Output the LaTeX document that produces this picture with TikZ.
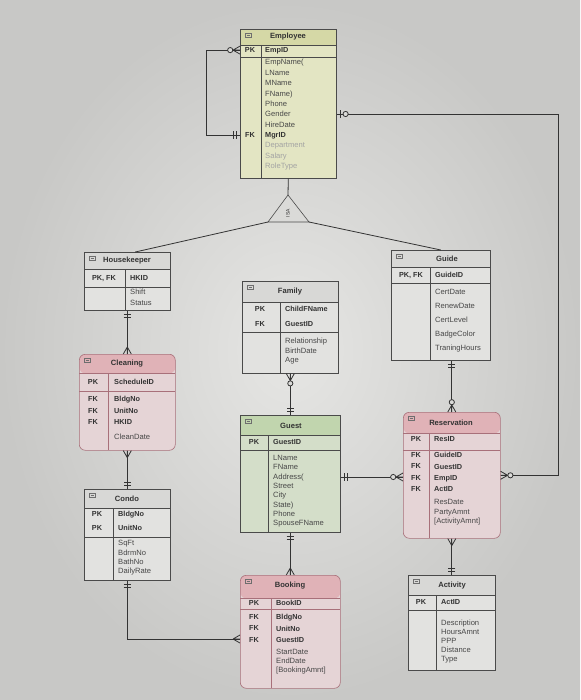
\documentclass[tikz,border=0pt]{standalone}
\usepackage{fontspec}
\setmainfont{Liberation Sans}
\begin{document}
\begin{tikzpicture}[x=1pt, y=-1pt]

\definecolor{bg}{HTML}{DADAD8}
\definecolor{cLine}{HTML}{4A4A4A}
\definecolor{cTxt}{HTML}{333333}
\definecolor{cBox}{HTML}{E2E2E0}
\definecolor{cBoxH}{HTML}{D8D8D6}
\definecolor{cYel}{HTML}{E3E5C3}
\definecolor{cYelH}{HTML}{D5D8A6}
\definecolor{cGrn}{HTML}{D4DEC9}
\definecolor{cGrnH}{HTML}{C1D5AE}
\definecolor{cPnk}{HTML}{E5D4D6}
\definecolor{cPnkH}{HTML}{E0B2B7}
\definecolor{cPnkL}{HTML}{A8707A}

\tikzset{
  hdr/.style 2 args = {path picture={\fill[#1] (path picture bounding box.north west)
      rectangle ([yshift=-#2]path picture bounding box.north east);}},
  entbox/.style  = {draw=cLine, line width=0.6pt, anchor=north west, inner sep=0pt,
      fill=cBox, hdr={cBoxH}{#1}},
  pinkbox/.style = {entbox=#1, rounded corners=6pt, draw=cPnkL, fill=cPnk, hdr={cPnkH}{#1}},
  sepline/.style = {draw=cLine, line width=0.6pt},
  ttl/.style     = {font=\fontsize{7.6}{9}\selectfont\bfseries, text=cTxt, inner sep=0pt},
  lbl/.style     = {font=\fontsize{7.3}{#1}\selectfont\bfseries, text=cTxt, align=center,
      anchor=north, inner sep=0pt},
  lbl/.default   = 9,
  kname/.style   = {font=\fontsize{7.3}{#1}\selectfont\bfseries, text=cTxt, align=left,
      anchor=north west, inner sep=0pt},
  kname/.default = 9,
  attr/.style    = {font=\fontsize{7.6}{#1}\selectfont, text=cTxt!90, align=left,
      anchor=north west, inner sep=0pt},
  attr/.default  = 9,
  conn/.style    = {draw=black!80, line width=0.8pt},
  icon/.style    = {draw=cLine!80, line width=0.4pt},
  crow/.pic  = {\draw[conn] (-7,0) -- (0,-4) (-7,0) -- (0,0) (-7,0) -- (0,4);},
  zmany/.pic = {\draw[conn] (-7,0) -- (0,-4) (-7,0) -- (0,0) (-7,0) -- (0,4);
                \draw[conn, fill=bg] (-9.8,0) circle (2.6pt);},
  bars/.pic  = {\draw[conn] (-4,-3.6) -- (-4,3.6) (-7,-3.6) -- (-7,3.6);},
  zone/.pic  = {\draw[conn] (-4,-3.6) -- (-4,3.6);
                \draw[conn, fill=bg] (-9,0) circle (2.6pt);},
}

\useasboundingbox (0,0) rectangle (580,700);
\shade[inner color={rgb,255:red,230;green,230;blue,228}, outer color={rgb,255:red,200;green,200;blue,198}]
  (0,0) rectangle (580,700);

%% ---------- Employee ----------
\node[entbox=16, fill=cYel, hdr={cYelH}{16}, minimum width=96, minimum height=149] (emp) at (240,29) {};
\draw[sepline] (240,45) -- (336,45) (240,57) -- (336,57) (261,45) -- (261,178);
\node[ttl] (emp-t) at (288,37) {Employee};
\node[lbl] (emp-pk) at (250,47.4) {PK};
\node[kname] (empid) at (265,47.4) {EmpID};
\node[attr=10.4] (emp-a) at (265,59.2) {EmpName(\\LName\\MName\\FName)\\Phone\\Gender\\HireDate};
\node[lbl] (emp-fk) at (250,132.2) {FK};
\node[kname] (mgrid) at (265,132.2) {MgrID};
\node[attr=10.4, text=cTxt!45] (emp-b) at (265,142.4) {Department\\Salary\\RoleType};

%% ---------- ISA ----------
\coordinate (isa-top) at (288,195);
\coordinate (isa-l) at (268,222);
\coordinate (isa-r) at (309,222);
\draw[sepline, fill=bg] (isa-top) -- (isa-l) -- (isa-r) -- cycle;
\node[font=\fontsize{5}{6}\selectfont, text=cTxt, rotate=90, inner sep=0pt] (isa) at (288,213) {ISA};

%% ---------- Housekeeper ----------
\node[entbox=17, minimum width=86, minimum height=58] (hk) at (84,252) {};
\draw[sepline] (84,269) -- (170,269) (84,287) -- (170,287) (125,269) -- (125,310);
\node[ttl] (hk-t) at (127,261) {Housekeeper};
\node[lbl] (hk-pk) at (104,275.4) {PK, FK};
\node[kname] (hk-id) at (130,275.4) {HKID};
\node[attr=11] (hk-a) at (130,289.2) {Shift\\Status};

%% ---------- Family ----------
\node[entbox=21, minimum width=96, minimum height=92] (fam) at (242,281) {};
\draw[sepline] (242,302) -- (338,302) (242,332) -- (338,332) (280,302) -- (280,373);
\node[ttl] (fam-t) at (290,292) {Family};
\node[lbl=15] (fam-k) at (260,306.4) {PK\\FK};
\node[kname=15] (fam-n) at (285,306.4) {ChildFName\\GuestID};
\node[attr=9.5] (fam-a) at (285,338.2) {Relationship\\BirthDate\\Age};

%% ---------- Guide ----------
\node[entbox=17, minimum width=99, minimum height=110] (guide) at (391,250) {};
\draw[sepline] (391,267) -- (490,267) (391,283) -- (490,283) (430,267) -- (430,360);
\node[ttl] (guide-t) at (447,259) {Guide};
\node[lbl] (guide-pk) at (411,272.4) {PK, FK};
\node[kname] (guide-id) at (435,272.4) {GuideID};
\node[attr=14] (guide-a) at (435,289.2) {CertDate\\RenewDate\\CertLevel\\BadgeColor\\TraningHours};

%% ---------- Cleaning ----------
\node[pinkbox=19, minimum width=96, minimum height=96] (cln) at (79,354) {};
\draw[sepline, draw=cPnkL] (79,373) -- (175,373) (79,391) -- (175,391) (108,373) -- (108,450);
\node[ttl] (cln-t) at (127,364) {Cleaning};
\node[lbl] (cln-pk) at (93,379.4) {PK};
\node[kname] (cln-id) at (114,379.4) {ScheduleID};
\node[lbl=11.5] (cln-fk) at (93,396.4) {FK\\FK\\FK};
\node[kname=11.5] (cln-fn) at (114,396.4) {BldgNo\\UnitNo\\HKID};
\node[attr] (cln-a) at (114,434.2) {CleanDate};

%% ---------- Condo ----------
\node[entbox=19, minimum width=86, minimum height=91] (condo) at (84,489) {};
\draw[sepline] (84,508) -- (170,508) (84,537) -- (170,537) (113,508) -- (113,580);
\node[ttl] (condo-t) at (127,499) {Condo};
\node[lbl=14] (condo-k) at (97,511.4) {PK\\PK};
\node[kname=14] (condo-n) at (118,511.4) {BldgNo\\UnitNo};
\node[attr=9.3] (condo-a) at (118,540.2) {SqFt\\BdrmNo\\BathNo\\DailyRate};

%% ---------- Guest ----------
\node[entbox=20, fill=cGrn, hdr={cGrnH}{20}, minimum width=100, minimum height=117] (guest) at (240,415) {};
\draw[sepline] (240,435) -- (340,435) (240,450) -- (340,450) (268,435) -- (268,532);
\node[ttl] (guest-t) at (291,426) {Guest};
\node[lbl] (guest-pk) at (254,439.4) {PK};
\node[kname] (guest-id) at (273,439.4) {GuestID};
\node[attr=9.3] (guest-a) at (273,455.2) {LName\\FName\\Address(\\Street\\City\\State)\\Phone\\SpouseFName};

%% ---------- Reservation ----------
\node[pinkbox=21, minimum width=97, minimum height=126] (res) at (403,412) {};
\draw[sepline, draw=cPnkL] (403,433) -- (500,433) (403,450) -- (500,450) (429,433) -- (429,538);
\node[ttl] (res-t) at (451,423) {Reservation};
\node[lbl] (res-pk) at (416,436.4) {PK};
\node[kname] (res-id) at (434,436.4) {ResID};
\node[lbl=11.3] (res-fk) at (416,452.4) {FK\\FK\\FK\\FK};
\node[kname=11.3] (res-fn) at (434,452.4) {GuideID\\GuestID\\EmpID\\ActID};
\node[attr=9.5] (res-a) at (434,499.2) {ResDate\\PartyAmnt\\{[ActivityAmnt]}};

%% ---------- Booking ----------
\node[pinkbox=23, minimum width=100, minimum height=113] (book) at (240,575) {};
\draw[sepline, draw=cPnkL] (240,598) -- (340,598) (240,609) -- (340,609) (271,598) -- (271,688);
\node[ttl] (book-t) at (290,586) {Booking};
\node[lbl] (book-pk) at (254,600.4) {PK};
\node[kname] (book-id) at (276,600.4) {BookID};
\node[lbl=11.3] (book-fk) at (254,614.4) {FK\\FK\\FK};
\node[kname=11.3] (book-fn) at (276,614.4) {BldgNo\\UnitNo\\GuestID};
\node[attr=8.9] (book-a) at (276,649.2) {StartDate\\EndDate\\{[BookingAmnt]}};

%% ---------- Activity ----------
\node[entbox=20, minimum width=87, minimum height=95] (act) at (408,575) {};
\draw[sepline] (408,595) -- (495,595) (408,610) -- (495,610) (436,595) -- (436,670);
\node[ttl] (act-t) at (452,586) {Activity};
\node[lbl] (act-pk) at (421,599.4) {PK};
\node[kname] (act-id) at (441,599.4) {ActID};
\node[attr=8.9] (act-a) at (441,620.2) {Description\\HoursAmnt\\PPP\\Distance\\Type};

%% header icons
\foreach \e in {emp,hk,fam,guide,cln,condo,guest,res,book,act}
  \draw[icon] ([xshift=5,yshift=-4]\e.north west) rectangle ++(6,4.5)
              ([xshift=6.5,yshift=-6.25]\e.north west) -- ++(3,0);

%% ---------- relationships ----------
\draw[conn] (emp.west |- emp-pk) -- ++(-34,0) |- (emp.west |- emp-fk);
\pic at (emp.west |- emp-pk) {zmany};
\pic at (emp.west |- emp-fk) {bars};

\draw[conn] (emp.east |- 0,114) -| ([xshift=58]res.east) -- (res.east);
\pic[rotate=180] at (emp.east |- 0,114) {zone};
\pic[rotate=180] at (res.east) {zmany};

\draw[conn] (emp.south) -- (isa-top);
\draw[conn] (isa-l) -- ([xshift=8]hk.north);
\draw[conn] (isa-r) -- (guide.north);

\draw[conn] (hk.south) -- (cln.north);
\pic[rotate=90] at (hk.south) {bars};
\pic[rotate=-90] at (cln.north) {crow};

\draw[conn] (cln.south) -- (condo.north);
\pic[rotate=90] at (cln.south) {crow};
\pic[rotate=-90] at (condo.north) {bars};

\draw[conn] (condo.south) |- (book.west |- 0,639);
\pic[rotate=90] at (condo.south) {bars};
\pic at (book.west |- 0,639) {crow};

\draw[conn] (fam.south) -- (guest.north);
\pic[rotate=90] at (fam.south) {zmany};
\pic[rotate=-90] at (guest.north) {bars};

\draw[conn] (guest.east |- 0,477) -- (res.west |- 0,477);
\pic[rotate=180] at (guest.east |- 0,477) {bars};
\pic at (res.west |- 0,477) {zmany};

\draw[conn] (guest.south) -- (book.north);
\pic[rotate=90] at (guest.south) {bars};
\pic[rotate=-90] at (book.north) {crow};

\draw[conn] (guide.south -| res.north) -- (res.north);
\pic[rotate=90] at (guide.south -| res.north) {bars};
\pic[rotate=-90] at (res.north) {zmany};

\draw[conn] (res.south) -- (act.north);
\pic[rotate=90] at (res.south) {crow};
\pic[rotate=-90] at (act.north) {bars};

\end{tikzpicture}
\end{document}
